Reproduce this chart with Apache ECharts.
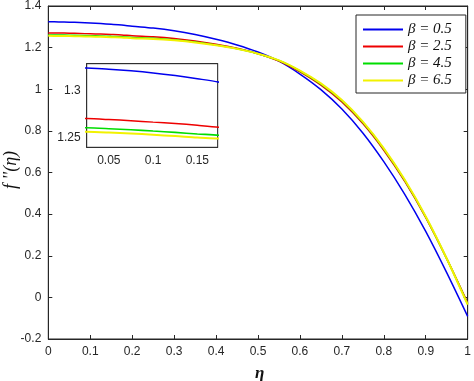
<!DOCTYPE html>
<html>
<head>
<meta charset="utf-8">
<script src="https://cdn.jsdelivr.net/npm/echarts@6/dist/echarts.min.js"></script>
<style>
html,body{margin:0;padding:0;background:#fff;}
#chart{width:474px;height:381px;}
</style>
</head>
<body>
<div id="chart"></div>
<script>
// ---- data ----
const eta = [0, 0.025, 0.05, 0.075, 0.1, 0.125, 0.15, 0.175, 0.2, 0.25, 0.3, 0.35, 0.4, 0.45, 0.5, 0.55, 0.6, 0.65, 0.7, 0.75, 0.8, 0.85, 0.9, 0.95, 1];
const beta05 = [1.3245, 1.3234, 1.3222, 1.3205, 1.3183, 1.3155, 1.3122, 1.3085, 1.303, 1.294, 1.281, 1.263, 1.240, 1.213, 1.179, 1.135, 1.073, 0.998, 0.905, 0.790, 0.652, 0.495, 0.317, 0.119, -0.091];
const beta25 = [1.2705, 1.2702, 1.2692, 1.2680, 1.2665, 1.2650, 1.2632, 1.2610, 1.257, 1.252, 1.244, 1.232, 1.216, 1.197, 1.171, 1.136, 1.084, 1.020, 0.939, 0.835, 0.707, 0.557, 0.383, 0.186, -0.026];
const beta45 = [1.2607, 1.2605, 1.2596, 1.2585, 1.2571, 1.2557, 1.2540, 1.2526, 1.249, 1.245, 1.238, 1.227, 1.213, 1.195, 1.171, 1.138, 1.088, 1.025, 0.945, 0.841, 0.713, 0.562, 0.387, 0.186, -0.032];
const beta65 = [1.2565, 1.2563, 1.2555, 1.2545, 1.2532, 1.2518, 1.2502, 1.2491, 1.2455, 1.242, 1.235, 1.225, 1.211, 1.194, 1.171, 1.139, 1.090, 1.028, 0.948, 0.844, 0.716, 0.565, 0.389, 0.187, -0.035];
const seriesNames = ['\u03b2 = 0.5', '\u03b2 = 2.5', '\u03b2 = 4.5', '\u03b2 = 6.5'];
const mainXTicks = [0, 0.1, 0.2, 0.3, 0.4, 0.5, 0.6, 0.7, 0.8, 0.9, 1];
const mainYTicks = [-0.2, 0, 0.2, 0.4, 0.6, 0.8, 1, 1.2, 1.4];
const insetXTicks = [0.05, 0.1, 0.15];
const insetYTicks = [1.25, 1.3];
const insetXRange = [0.025, 0.173];
const insetYRange = [1.24, 1.328];

// ---- styling ----
const colors = ['#0000ee', '#ee0000', '#00dd00', '#f2f200'];
const widths = [1.5, 1.5, 1.6, 2];
const axisColor = '#262626';
const labelFont = {fontFamily: 'Liberation Sans, Arial, sans-serif', fontSize: 12, color: axisColor};

const allSeries = [beta05, beta25, beta45, beta65];
const pairs = s => eta.map((x, i) => [x, s[i]]);

function axisBase(extra) {
  return Object.assign({
    type: 'value',
    axisLine: {show: true, onZero: false, lineStyle: {color: axisColor, width: 1}},
    axisTick: {show: true, inside: true, length: 4, lineStyle: {color: axisColor}},
    splitLine: {show: false},
    axisLabel: Object.assign({}, labelFont, {margin: 7})
  }, extra);
}

const chart = echarts.init(document.getElementById('chart'), null, {renderer: 'canvas'});

const series = [];
allSeries.forEach((s, k) => {
  series.push({
    name: seriesNames[k], type: 'line', xAxisIndex: 0, yAxisIndex: 0,
    data: pairs(s), smooth: 0.3, symbol: 'none',
    lineStyle: {color: colors[k], width: widths[k]}, itemStyle: {color: colors[k]}, z: 3 + k
  });
});
allSeries.forEach((s, k) => {
  series.push({
    name: seriesNames[k], type: 'line', xAxisIndex: 2, yAxisIndex: 2,
    data: pairs(s), smooth: 0.3, symbol: 'none', clip: true,
    lineStyle: {color: colors[k], width: widths[k]}, itemStyle: {color: colors[k]}, z: 10 + k
  });
});
// empty helper series so the top / right frame axes are bound and drawn
series.push({type: 'line', xAxisIndex: 1, yAxisIndex: 1, data: [], symbol: 'none', silent: true});
series.push({type: 'line', xAxisIndex: 3, yAxisIndex: 3, data: [], symbol: 'none', silent: true});

const option = {
  animation: false,
  backgroundColor: '#fff',
  grid: [
    {left: 48.3, top: 5.7, right: 2, bottom: 42, show: true, borderColor: axisColor, borderWidth: 1, backgroundColor: 'transparent'},
    {left: 86.7, top: 63.7, width: 131, height: 83.6, show: true, backgroundColor: '#fff', borderColor: axisColor, borderWidth: 1, z: 5}
  ],
  xAxis: [
    axisBase({gridIndex: 0, position: 'bottom', min: mainXTicks[0], max: mainXTicks[mainXTicks.length - 1], interval: 0.1}),
    axisBase({gridIndex: 0, position: 'top', min: mainXTicks[0], max: mainXTicks[mainXTicks.length - 1], interval: 0.1, axisLabel: {show: false}}),
    axisBase({gridIndex: 1, position: 'bottom', min: insetXRange[0], max: insetXRange[1],
      axisTick: {show: true, inside: true, length: 3, customValues: insetXTicks, lineStyle: {color: axisColor}},
      axisLabel: Object.assign({}, labelFont, {margin: 7, customValues: insetXTicks})}),
    axisBase({gridIndex: 1, position: 'top', min: insetXRange[0], max: insetXRange[1],
      axisTick: {show: true, inside: true, length: 3, customValues: insetXTicks, lineStyle: {color: axisColor}},
      axisLabel: {show: false}})
  ],
  yAxis: [
    axisBase({gridIndex: 0, position: 'left', min: mainYTicks[0], max: mainYTicks[mainYTicks.length - 1], interval: 0.2}),
    axisBase({gridIndex: 0, position: 'right', min: mainYTicks[0], max: mainYTicks[mainYTicks.length - 1], interval: 0.2, axisLabel: {show: false}}),
    axisBase({gridIndex: 1, position: 'left', min: insetYRange[0], max: insetYRange[1],
      axisTick: {show: true, inside: true, length: 3, customValues: insetYTicks, lineStyle: {color: axisColor}},
      axisLabel: Object.assign({}, labelFont, {margin: 6, customValues: insetYTicks})}),
    axisBase({gridIndex: 1, position: 'right', min: insetYRange[0], max: insetYRange[1],
      axisTick: {show: true, inside: true, length: 3, customValues: insetYTicks, lineStyle: {color: axisColor}},
      axisLabel: {show: false}})
  ],
  legend: {
    show: true,
    data: seriesNames,
    orient: 'vertical',
    left: 356, top: 15,
    padding: [7, 14, 5, 7],
    itemGap: 2,
    itemWidth: 40, itemHeight: 2,
    icon: 'rect',
    backgroundColor: '#fff',
    borderColor: axisColor, borderWidth: 1,
    textStyle: {fontFamily: 'Liberation Serif, Times New Roman, serif', fontStyle: 'italic', fontSize: 15, lineHeight: 15, color: '#111'},
    z: 20
  },
  graphic: [
    {type: 'text', left: 255, top: 365, style: {text: '\u03b7', font: 'italic bold 17px "Liberation Serif", serif', fill: '#111'}},
    {type: 'text', x: 11, y: 170, rotation: Math.PI / 2, style: {text: "f ''(\u03b7)", font: 'italic 18px "Liberation Serif", serif', fill: '#111', textAlign: 'center', textVerticalAlign: 'middle'}}
  ],
  series: series
};
chart.setOption(option);
</script>
</body>
</html>
